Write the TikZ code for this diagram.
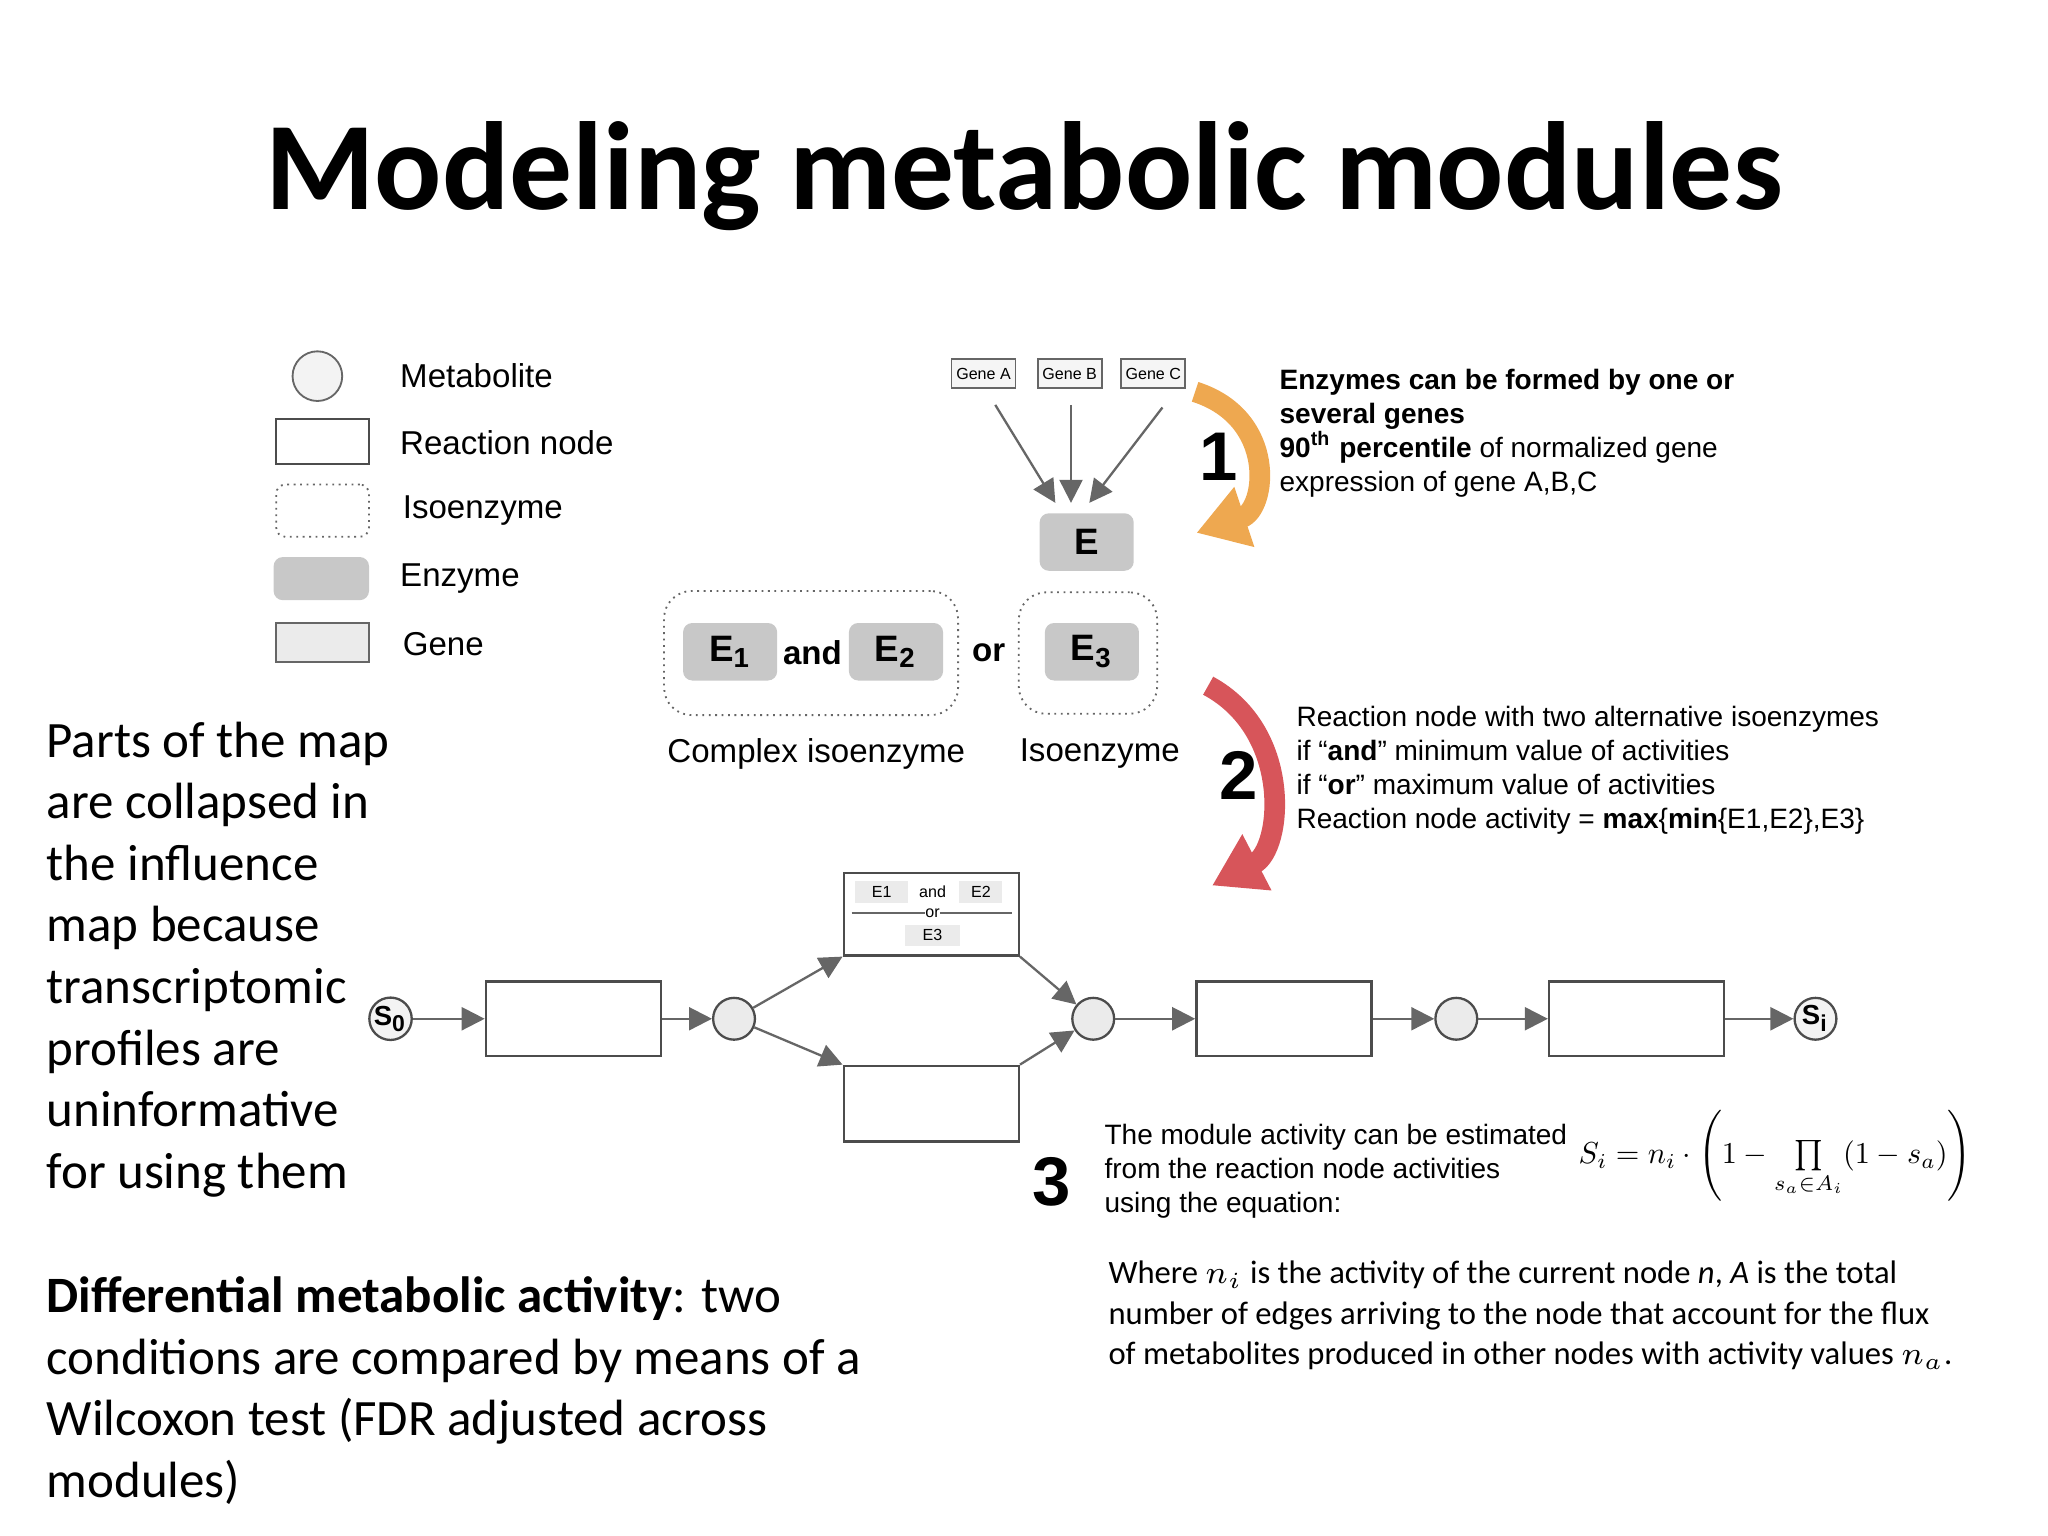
\documentclass[tikz,border=0pt]{standalone}
\usepackage{fontspec}
\usepackage{graphicx}
\setmainfont{Carlito}
\newfontfamily\arial{Liberation Sans}
\usetikzlibrary{arrows.meta}
\definecolor{engrey}{RGB}{200,200,200}
\definecolor{gngrey}{RGB}{235,235,235}
\definecolor{orng}{RGB}{238,168,80}
\definecolor{redc}{RGB}{215,85,90}
\begin{document}
\begin{tikzpicture}[x=0.01cm,y=-0.01cm,
  box/.style={draw=black!70,line width=0.5pt,minimum width=1.34cm,minimum height=0.57cm,inner sep=0},
  met/.style={circle,draw=black!70,fill=gngrey,line width=0.5pt,minimum size=0.32cm,inner sep=0},
  enz/.style={rounded corners=2pt,fill=engrey,minimum width=0.72cm,minimum height=0.44cm,inner sep=0,font=\arial\bfseries\fontsize{8}{8}\selectfont},
  gene/.style={draw=black!60,fill=gngrey!50,line width=0.4pt,minimum width=0.49cm,minimum height=0.22cm,inner sep=0,font=\arial\fontsize{3.5}{3.5}\selectfont},
  leg/.style={anchor=west,font=\arial\fontsize{7.2}{8}\selectfont},
  arr/.style={-{Triangle[length=5pt,width=5pt]},black!60,line width=0.5pt},
  rt/.style={anchor=north west,align=left,font=\arial\fontsize{6.1}{7.4}\selectfont,inner sep=0},
  body/.style={anchor=north west,align=left,font=\fontsize{11.1}{13.4}\selectfont,inner sep=0},
  num/.style={font=\arial\bfseries\fontsize{15}{15}\selectfont}]
\useasboundingbox (0,0) rectangle (1568,1176);
\node[font=\bfseries\fontsize{27.3}{30}\selectfont] (title) at (784,135) {Modeling metabolic modules};
% legend
\node[circle,draw=black!60,fill=gngrey!60,minimum size=0.38cm,inner sep=0] (l1) at (243,288) {};
\node[draw=black!70,minimum width=0.71cm,minimum height=0.34cm,inner sep=0] (l2) at (247,338) {};
\node[draw=black!60,densely dotted,rounded corners=2pt,minimum width=0.71cm,minimum height=0.40cm,inner sep=0] (l3) at (247,391) {};
\node[fill=engrey,rounded corners=2pt,minimum width=0.73cm,minimum height=0.33cm,inner sep=0] (l4) at (246,443) {};
\node[draw=black!60,fill=gngrey,minimum width=0.71cm,minimum height=0.30cm,inner sep=0] (l5) at (247,492) {};
\node[leg] at (294,288) {Metabolite};
\node[leg] at (294,339) {Reaction node};
\node[leg] at (296,391) {Isoenzyme};
\node[leg] at (294,443) {Enzyme};
\node[leg] at (296,493) {Gene};
% genes
\node[gene] (ga) at (753,286) {Gene A};
\node[gene] (gb) at (819,286) {Gene B};
\node[gene] (gc) at (883,286) {Gene C};
\node[enz] (E) at (832,415) {E};
\coordinate (ea) at (762,310);\coordinate (eb) at (820,310);\coordinate (ec) at (890,312);
\coordinate (ta) at (808,385);\coordinate (tb) at (820,385);\coordinate (tc) at (834,385);
\draw[arr] (ea) -- (ta);
\draw[arr] (eb) -- (tb);
\draw[arr] (ec) -- (tc);
% isoenzymes
\node[draw=black!60,densely dotted,rounded corners=6pt,minimum width=2.25cm,minimum height=0.95cm] (cx) at (621,500) {};
\node[draw=black!60,densely dotted,rounded corners=6pt,minimum width=1.06cm,minimum height=0.93cm] (iso) at (833,500) {};
\node[enz] (e1) at (559,499) {E\textsubscript{1}};
\node[enz] (e2) at (686,499) {E\textsubscript{2}};
\node[enz] (e3) at (836,499) {E\textsubscript{3}};
\node[font=\arial\bfseries\fontsize{7.2}{8}\selectfont] at (622,500) {and};
\node[font=\arial\bfseries\fontsize{7.2}{8}\selectfont] at (757,500) {or};
\node[font=\arial\fontsize{7.2}{8}\selectfont] at (625,577) {Complex isoenzyme};
\node[font=\arial\fontsize{7.2}{8}\selectfont] at (842,577) {Isoenzyme};
% curved arrows
\coordinate (o1) at (915,300);\coordinate (o2) at (916,408);
\draw[orng,line width=4.5pt,-{Triangle[length=11pt,width=13pt]}] (o1) .. controls (978,320) and (970,390) .. (o2);
\node[num] at (933,350) {1};
\coordinate (r1) at (925,525);\coordinate (r2) at (928,678);
\draw[redc,line width=4.5pt,-{Triangle[length=11pt,width=13pt]}] (r1) .. controls (990,560) and (982,650) .. (r2);
\node[num] at (948,594) {2};
\node[rt] at (979,282) {\textbf{Enzymes can be formed by one or}\\\textbf{several genes}\\\textbf{90\textsuperscript{th} percentile} of normalized gene\\expression of gene A,B,C};
\node[rt] at (992,540) {Reaction node with two alternative isoenzymes\\if “\textbf{and}” minimum value of activities\\if “\textbf{or}” maximum value of activities\\Reaction node activity = \textbf{max}\{\textbf{min}\{E1,E2\},E3\}};
% chain
\node[met,fill=gngrey!60,font=\arial\bfseries\fontsize{6}{6}\selectfont] (s0) at (299,780) {S\textsubscript{0}};
\node[box] (b1) at (439,780) {};
\node[met] (m1) at (562,780) {};
\node[box,minimum height=0.63cm] (bt) at (713,700) {};
\node[box,minimum height=0.58cm] (bb) at (713,845) {};
\node[met] (m2) at (837,780) {};
\node[box] (b2) at (983,780) {};
\node[met] (m3) at (1115,780) {};
\node[box] (b3) at (1253,780) {};
\node[met,fill=gngrey!60,font=\arial\bfseries\fontsize{6}{6}\selectfont] (si) at (1390,780) {S\textsubscript{i}};
\draw[arr] (s0) -- (b1);
\draw[arr] (b1) -- (m1);
\draw[arr] (m1) -- (bt.south west);
\draw[arr] (m1) -- (bb.north west);
\draw[arr] (bt.south east) -- (m2);
\draw[arr] (bb.north east) -- (m2);
\draw[arr] (m2) -- (b2);
\draw[arr] (b2) -- (m3);
\draw[arr] (m3) -- (b3);
\draw[arr] (b3) -- (si);
% inside top box
\node[fill=gngrey,minimum width=0.40cm,minimum height=0.17cm,inner sep=0,font=\arial\fontsize{3.5}{3.5}\selectfont] (s1) at (675,683) {E1};
\node[fill=gngrey,minimum width=0.33cm,minimum height=0.17cm,inner sep=0,font=\arial\fontsize{3.5}{3.5}\selectfont] (s2) at (751,683) {E2};
\node[font=\arial\fontsize{3.5}{3.5}\selectfont] at (714,683) {and};
\node[fill=gngrey,minimum width=0.42cm,minimum height=0.16cm,inner sep=0,font=\arial\fontsize{3.5}{3.5}\selectfont] (s3) at (714,716) {E3};
\draw[black!60,line width=0.3pt] (652,699) -- (708,699) (720,699) -- (775,699);
\node[font=\arial\fontsize{3.5}{3.5}\selectfont,inner sep=0] at (714,699) {or};
% 3
\node[num] at (805,905) {3};
\node[rt] at (845,860) {The module activity can be estimated\\from the reaction node activities\\using the equation:};
\node[anchor=west,inner sep=0] at (1208,885) {\scalebox{0.66}{$S_i = n_i\cdot\left(1-\prod\limits_{s_a\in A_i}(1-s_a)\right)$}};
\node[anchor=north west,align=left,font=\fontsize{7.1}{8.8}\selectfont,inner sep=0] at (848,965) {Where $n_i$ is the activity of the current node \textit{n}, \textit{A} is the total\\number of edges arriving to the node that account for the flux\\of metabolites produced in other nodes with activity values $n_a$.};
% left text
\node[body] at (35,552) {Parts of the map\\are collapsed in\\the influence\\map because\\transcriptomic\\profiles are\\uninformative\\for using them};
\node[body] at (35,977) {\textbf{Differential metabolic activity}: two\\conditions are compared by means of a\\Wilcoxon test (FDR adjusted across\\modules)};
\end{tikzpicture}
\end{document}
